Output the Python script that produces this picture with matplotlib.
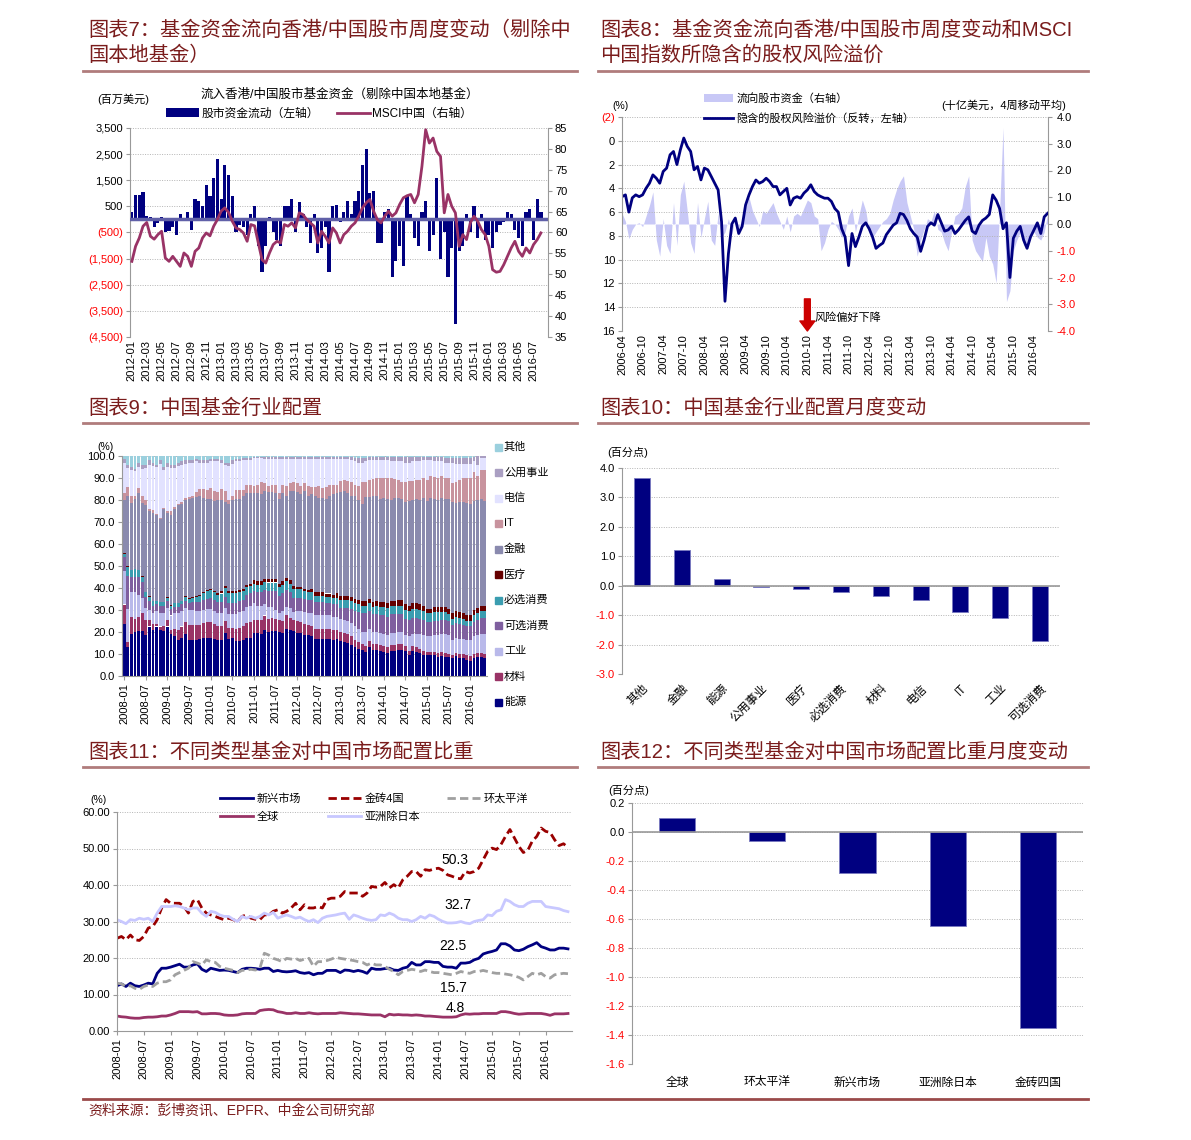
import numpy as np
import matplotlib
matplotlib.use('Agg')
import matplotlib.pyplot as plt
from matplotlib.patches import Rectangle, Patch
from matplotlib.lines import Line2D

plt.rcParams['font.family'] = ['Liberation Sans', 'Noto Sans CJK SC', 'DejaVu Sans']
plt.rcParams['axes.unicode_minus'] = False

# ---------------- DATA ----------------
# Chart 7: semi-monthly, 2012-01 .. 2016-08
flow7 = [300, 950, 950, 1050, 150, 100, -300, -150, 100, -500,
         -450, -300, -600, 200, 50, 300, -400, 800, 700, 500,
         1300, 900, 1600, 2300, 800, 2100, 1700, 900, -500, -200,
         -300, -600, 200, 500, -1000, -2000, -1000, 100, -500, -800,
         -1000, 500, 500, 800, -500, 650, 200, -300, -900, 200,
         -1300, -1100, -300, -2000, 500, 550, -100, 300, 700, 200,
         700, 1100, 2100, 2700, 1000, 1100, -900, -900, 300, 400,
         -2200, -1600, -1000, -1800, 900, 200, -700, -1000, 300, 700,
         -1200, -600, 1600, -1500, -500, -2200, -1100, -4000, -1200, -1000,
         200, -500, 500, -700, 200, -800, -600, -1100, -500, -200,
         -100, 300, 200, -400, -700, -1000, 300, 400, -800, 800,
         300]
msci7 = [53.1, 56.7, 58.7, 61.5, 62.4, 59.1, 58.4, 59.5, 60.3, 53.9,
         53.1, 54.3, 53.1, 51.9, 55.1, 54.3, 51.9, 55.5, 56.3, 58.7,
         59.9, 59.2, 61.5, 63.1, 65.1, 65.9, 64.8, 62.7, 61.1, 60.7,
         59.9, 57.9, 61.9, 61.6, 57.5, 53.5, 52.7, 55.1, 57.1, 57.9,
         57.5, 61.9, 61.5, 62.3, 61.1, 64.7, 64.3, 63.1, 62.3, 61.5,
         57.5, 60.3, 59.1, 57.5, 61.1, 59.9, 57.5, 59.5, 60.3, 61.5,
         62.3, 63.9, 65.9, 67.1, 67.9, 65.1, 63.1, 62.3, 63.9, 65.1,
         63.9, 64.7, 66.7, 68.3, 68.8, 69.1, 67.1, 69.1, 75.8, 84.6,
         81.4, 82.6, 79.4, 78.2, 64.7, 69.1, 66.3, 64.7, 56.7, 59.5,
         58.3, 62.3, 63.9, 62.7, 60.7, 59.5, 56.7, 51.1, 50.5, 50.7,
         52.3, 54.3, 56.3, 57.9, 55.5, 54.3, 56.3, 55.1, 57.1, 58.3,
         59.9]
x7_labels = [f'{y}-{m:02d}' for y in range(2012, 2017) for m in (1, 3, 5, 7, 9, 11)][:28]

# Chart 8: monthly, 2006-04 .. 2016-08
erp8 = [4.7, 4.55, 6.0, 4.8, 4.55, 4.7, 4.55, 4.0, 3.57, 2.87,
        3.15, 3.57, 2.58, 2.3, 1.18, 0.9, 2.0, 0.76, -0.23, 0.47,
        0.9, 2.44, 2.16, 3.29, 2.3, 2.44, 3.0, 3.57, 4.13, 6.8,
        13.5, 9.5, 7.0, 6.5, 7.8, 7.2, 5.4, 4.55, 3.85, 3.3,
        3.57, 3.43, 3.15, 3.43, 3.85, 3.85, 4.55, 4.27, 4.0, 5.4,
        4.83, 4.7, 4.83, 4.4, 4.13, 3.7, 4.27, 4.55, 4.7, 4.83,
        4.83, 5.1, 5.7, 6.0, 7.4, 8.1, 10.5, 7.8, 8.9, 8.1,
        7.2, 6.9, 7.4, 8.1, 9.05, 8.8, 8.6, 7.9, 7.5, 7.1,
        6.9, 6.1, 6.2, 6.7, 7.4, 7.8, 8.1, 9.3, 8.35, 7.2,
        6.9, 7.1, 6.2, 6.9, 7.6, 7.5, 7.2, 7.8, 7.5, 7.1,
        6.7, 6.4, 7.6, 7.8, 7.1, 6.7, 6.5, 6.2, 4.55, 5.0,
        5.7, 7.4, 6.9, 11.5, 8.2, 7.6, 7.2, 8.35, 9.05, 8.1,
        7.5, 6.9, 7.8, 6.4, 6.1]
flow8 = [0.4, 0.1, -0.55, -0.2, 0.0, 0.05, -0.1, 0.3, 0.7, 1.2,
         -0.6, -1.2, 0.2, -0.8, -1.1, 0.8, -0.8, 1.1, 1.6, 0.5,
         -0.7, -1.1, 0.8, -0.5, 0.2, 0.85, -0.6, -0.8, 0.4, -0.5,
         -0.3, 0.2, -0.4, 0.3, -0.2, 0.2, 0.6, 1.0, 0.5, 0.2,
         -0.1, 0.5, 0.4, 0.6, 0.8, 0.4, 0.1, -0.2, 0.3, -0.3,
         0.3, 0.4, 0.3, 0.6, 0.9, 0.8, 0.3, 0.2, -1.0, -0.7,
         -0.2, 0.1, 0.0, -0.2, -0.5, -0.3, 0.3, 0.6, -0.3, 0.3,
         0.9, 0.5, -0.3, -0.5, -0.3, -0.1, 0.1, 0.2, 0.4, 0.9,
         1.3, 1.6, 1.8, 0.8, 0.3, -0.2, -1.2, -0.6, -0.2, 0.2,
         0.1, 0.5, -0.2, -0.3, -0.7, -1.0, -0.3, 0.3, 0.4, 0.6,
         1.4, 1.8, -0.6, -1.0, -1.2, -1.4, -0.5, -1.2, -1.5, -2.2,
         0.5, 3.6, -2.9, -2.5, -1.0, -0.6, -0.3, -0.8, -0.9, -0.4,
         -0.3, -0.5, -0.6, -0.3, 0.4]
x8_labels = [f'{y}-{m:02d}' for y in range(2006, 2017) for m in (4, 10)][:21]

# Chart 9: monthly sector shares, 2008-01 .. 2016-05
energy9 = [23.5, 13, 19, 20, 20.5, 20.5, 18.5, 22.5, 21, 22.5, 21, 20.5,
           22.5, 19, 18, 16.5, 17.5, 19, 16.5, 16.5, 16.5, 17, 17.5, 17.5,
           17.5, 17, 16.5, 16.5, 19.5, 17, 17.5, 16, 16, 16.5, 17.5, 17.5,
           19.5, 19.5, 19, 21, 20, 20.5, 20.5, 20, 19.5, 21.5, 21, 20.5,
           19.5, 19.5, 18.5, 18.5, 18, 17, 17, 17, 17, 17, 16.5, 17,
           16, 15.5, 15, 14, 13, 12.5, 12, 11, 13, 12, 12, 11.5,
           11, 10.5, 11.5, 11.5, 12, 12, 11.5, 9.5, 11.5, 11, 10.5, 9.5,
           9.5, 9.5, 9.5, 8.5, 9, 8.5, 8.5, 8, 9, 8, 8, 7.5,
           7, 8, 8.5, 8.5, 8]
materials9 = [9, 2.5, 8, 6, 6.5, 8, 7, 3, 2.5, 1, 1.5, 2,
              3, 2, 3.5, 4.5, 5, 5.5, 6.5, 6.5, 6.5, 6, 6.5, 7,
              7, 6.5, 6, 6, 5.5, 5, 4.5, 5.5, 6, 6, 6.5, 7,
              6, 6, 6.5, 6.5, 6, 6, 5.5, 5.5, 5.5, 6, 5.5, 5,
              5.5, 5, 5, 4.5, 4.5, 4.5, 4.5, 4.5, 4.5, 4.5, 4.5, 4,
              4, 4, 4, 4, 3.5, 3, 2.5, 2.5, 3, 2.5, 2.5, 2.5,
              2.5, 2.5, 2.5, 2.5, 2.5, 2.5, 2, 2, 2, 2, 2, 2,
              1.5, 1.5, 1.5, 2, 2, 2, 1.5, 1.5, 1.5, 2, 2, 2,
              2, 2, 2, 2, 2]
industrials9 = [15, 15, 11, 12, 10, 7, 5.5, 4.5, 5, 6, 6, 6,
                5.5, 6.5, 7, 7.5, 7, 6.5, 7, 7, 6.5, 6.5, 6, 6,
                6, 6, 6, 6, 6, 6, 6, 6.5, 7, 7, 7.5, 7.5,
                7.5, 6.5, 6.5, 5, 5.5, 5, 4, 3, 4.5, 4, 4.5, 3.5,
                4.5, 5, 5.5, 5.5, 6, 6, 6, 6, 6, 6, 6, 6,
                6, 6, 6, 6, 6, 6, 5.5, 6.5, 5.5, 5.5, 5.5, 5.5,
                5.5, 5.5, 5.5, 5.5, 5.5, 5.5, 5, 6.5, 5.5, 6, 6.5, 7,
                7, 7, 7.5, 8, 8, 8.5, 8.5, 7, 7, 7, 7, 7,
                7.5, 8, 8, 8.5, 9]
discretionary9 = [6.5, 15, 7, 7, 8, 7, 5, 4, 3.5, 3, 3.5, 3.5,
                  3, 3, 3, 3, 3, 3, 3, 3.5, 4, 4, 4.5, 4.5,
                  5, 5, 5, 5, 5, 5, 5, 5, 5, 5, 5.5, 5.5,
                  5.5, 6, 6, 6.5, 7, 7, 8.5, 8, 8, 7.5, 7, 6.5,
                  6, 6, 6, 6, 6, 6, 6, 6, 5.5, 5.5, 5.5, 5.5,
                  5, 5.5, 6, 6.5, 7, 7.5, 8.5, 8.5, 8, 8, 8, 8,
                  8.5, 8.5, 8.5, 8.5, 8, 8, 7.5, 7.5, 7.5, 7.5, 7, 7,
                  6.5, 6.5, 6.5, 6.5, 6.5, 6.5, 6.5, 6.5, 6.5, 6.5, 6, 6,
                  6, 6.5, 7, 7.5, 7.5]
staples9 = [1.5, 4, 3, 3.5, 3, 2.5, 2, 2, 2, 1.5, 1.5, 1.5,
            1.5, 1.5, 1.5, 1.5, 1.5, 2, 2, 2, 2.5, 3, 3, 3.5,
            3.5, 3.5, 3.5, 4, 4, 4.5, 4.5, 4.5, 4, 4, 3.5, 3.5,
            3.5, 3.5, 3.5, 3.5, 4, 4, 4, 4, 4, 4, 4, 4,
            4, 4, 3.5, 3.5, 3.5, 3, 3, 3, 3, 3, 3, 3,
            3.5, 3.5, 3.5, 3.5, 3.5, 3.5, 3.5, 3.5, 3.5, 3.5, 4, 4,
            4, 4, 4, 4, 4, 4, 4, 4, 4, 4, 4, 4,
            4, 4, 4, 4, 3.5, 3.5, 3, 3, 3, 3, 3, 2.5,
            2.5, 3, 3, 3, 3]
health9 = [0.3, 0.3, 0.3, 0.3, 0.3, 0.3, 0.3, 0.3, 0.3, 0.3, 0.3, 0.3,
           0.3, 0.3, 0.3, 0.3, 0.3, 0.5, 0.5, 0.5, 0.5, 0.5, 0.5, 0.5,
           0.5, 0.8, 0.8, 1, 1, 1, 1, 1, 1, 1, 1, 1,
           1.5, 1.5, 1.5, 1.5, 1.5, 1.5, 1.5, 1.5, 1.5, 1.5, 1.5, 1.5,
           1, 1, 1, 1, 1.5, 1.5, 1.5, 1.5, 1.5, 1.5, 1.5, 2,
           2, 2, 2, 2, 2, 2, 2, 2, 2, 2, 2, 2,
           2, 2, 2, 2, 2.5, 2.5, 2.5, 2.5, 2.5, 2.5, 2.5, 2.5,
           2, 2, 2.5, 2.5, 2.5, 2.5, 2.5, 2.5, 2.5, 2.5, 2.5, 2.5,
           2.5, 2.5, 2.5, 2.5, 2.5]
financials9 = [24.2, 32.2, 30.2, 31.7, 34.7, 33.2, 39.2, 38.7, 39.7, 38.7, 37.7, 42.2,
               38.2, 40.7, 42.7, 44.2, 43.7, 43.5, 45, 45, 45, 45, 43, 41.5,
               41, 40.7, 42.2, 41.5, 38, 39.5, 41.5, 42, 41.5, 42.5, 41.5, 41,
               39.5, 40, 39.5, 40, 39.5, 39.5, 39, 38.5, 40, 37.5, 40.5, 43,
               43, 42, 44.5, 43, 43, 44, 43, 43, 43, 44.5, 45.5, 45.5,
               47, 47.5, 46.5, 46, 47, 45.5, 44, 47.5, 46.5, 48.5, 48, 47,
               47.5, 47.5, 46, 47, 46.5, 46, 46.5, 47.5, 47, 47.5, 47.5, 49,
               49, 50.5, 49, 48.5, 49.5, 49, 50, 50.5, 49, 50, 50.5, 51,
               50.5, 49.5, 49, 48.5, 47.5]
it9 = [3, 4, 3.5, 1.5, 2.5, 3.5, 2.5, 1, 1.5, 0.5, 0.5, 0.5,
       1, 2, 1, 0.5, 1, 1, 1, 1, 2, 3, 4, 4,
       5, 4.5, 3.5, 5, 5, 2, 2, 4, 4, 2.5, 4, 4,
       3.5, 4, 5.5, 3.5, 3, 3.5, 4, 2.5, 4, 4.5, 3.5, 4,
       4, 4, 3.5, 4.5, 3.5, 4, 5.5, 4.5, 5.5, 5, 4.5, 4,
       5, 5, 5.5, 6, 5, 6.5, 10, 6.5, 7.5, 7.5, 8, 9.5,
       9, 9.5, 10, 8.5, 8, 7.5, 9, 9, 8.5, 8.5, 9, 9,
       9.5, 10, 10, 10, 10, 9.5, 9.5, 8.5, 9.5, 10, 11, 11.5,
       12, 13, 11, 13, 14]
telecom9 = [14, 8.5, 11.5, 11, 9.5, 12, 14.5, 20, 20, 21.5, 24.5, 17,
            20, 19.5, 17.5, 17.5, 17, 15.5, 15.5, 15, 14, 12, 12, 12.5,
            12, 13.5, 14, 12, 12, 15.5, 14.5, 13, 13, 13.5, 11, 11,
            12.5, 12, 11, 11, 12, 11.5, 11.5, 15.5, 11.5, 12, 11, 10.5,
            11, 12, 11, 12, 12.5, 12.5, 12, 13, 12.5, 11.5, 11.5, 11.5,
            10, 9.5, 10, 10, 10.5, 10.5, 9, 9.5, 9, 8.5, 8, 8,
            8, 8, 7.5, 8, 8.5, 9.5, 9, 8.5, 9, 8.5, 8.5, 8,
            9, 7, 7, 7.5, 6.5, 7, 7, 9.5, 8.5, 7.5, 6.5, 6.5,
            6.5, 5, 5, 5.5, 5.5]
utilities9 = [1.5, 1.5, 1.5, 1, 2, 2, 1.5, 2, 1.5, 1, 1.5, 1.5,
              2, 1.5, 1.5, 1.5, 1.5, 1.5, 1, 1, 1, 1, 1, 1,
              1, 1, 1, 1, 1, 1.5, 1.5, 1, 1, 1, 1, 1,
              0.5, 0.5, 0.5, 1, 1, 1, 1, 1, 1, 1, 1, 1,
              1, 1, 1, 1, 1, 1, 1, 1, 1, 1, 1, 1,
              1, 1, 1, 1.5, 1.5, 2, 2, 1.5, 1.5, 1.5, 1.5, 1.5,
              1.5, 1.5, 2, 2, 2, 2, 2.5, 2.5, 2, 2, 2, 1.5,
              1.5, 1.5, 2, 2, 2, 2, 2, 2, 2.5, 2.5, 2.5, 2.5,
              2.5, 2, 4, 1, 1]
other9 = [1.5, 4, 5, 6, 3, 4, 4, 2, 3, 4, 2, 5,
          3, 4, 4, 3, 2.5, 2, 2, 2, 1.5, 2, 2, 2,
          1.5, 1.5, 1.5, 2, 3, 3, 2, 1.5, 1.5, 1, 1, 1,
          0.5, 0.5, 0.5, 0.5, 0.5, 0.5, 0.5, 0.5, 0.5, 0.5, 0.5, 0.5,
          0.5, 0.5, 0.5, 0.5, 0.5, 0.5, 0.5, 0.5, 0.5, 0.5, 0.5, 0.5,
          0.5, 0.5, 0.5, 0.5, 1, 1, 1, 1, 0.5, 0.5, 0.5, 0.5,
          0.5, 0.5, 0.5, 0.5, 0.5, 0.5, 0.5, 0.5, 0.5, 0.5, 0.5, 0.5,
          0.5, 0.5, 0.5, 0.5, 0.5, 1, 1, 1, 1, 1, 1, 1,
          1, 0.5, 0, 0, 0]
sectors9 = ['能源', '材料', '工业', '可选消费', '必选消费', '医疗', '金融', 'IT', '电信', '公用事业', '其他']
x9_labels = [f'{y}-{m:02d}' for y in range(2008, 2017) for m in (1, 7)][:17]

# Chart 10
cats10 = ['其他', '金融', '能源', '公用事业', '医疗', '必选消费', '材料', '电信', 'IT', '工业', '可选消费']
vals10 = [3.65, 1.22, 0.22, -0.06, -0.1, -0.22, -0.36, -0.5, -0.9, -1.1, -1.88]

# Chart 11: monthly 2008-01 .. 2016-06
em11 = [12.4, 12.9, 12.2, 13.1, 12.4, 12.2, 12.6, 13.1, 12.9, 15.8,
        17.2, 17.2, 17.5, 17.9, 18.3, 17.5, 17.5, 18.1, 18.4, 16.9,
        16.3, 17.2, 16.9, 16.6, 16.7, 16.6, 16.3, 16.0, 16.9, 17.2,
        17.2, 17.1, 16.9, 17.2, 17.2, 16.3, 16.6, 16.3, 16.2, 16.3,
        16.5, 16.0, 15.8, 16.0, 15.4, 15.8, 15.8, 16.6, 16.6, 16.6,
        16.0, 16.7, 16.6, 16.3, 16.6, 16.3, 15.8, 17.2, 16.9, 16.9,
        17.1, 17.2, 16.7, 16.6, 17.2, 17.5, 18.8, 18.1, 18.1, 19.0,
        19.0, 18.8, 18.8, 17.7, 17.5, 17.5, 17.2, 18.6, 18.6, 18.8,
        19.5, 19.9, 21.1, 21.5, 21.8, 22.2, 23.9, 23.9, 23.3, 22.2,
        22.0, 22.4, 23.1, 23.6, 24.2, 23.1, 22.7, 22.2, 22.2, 22.7,
        22.7, 22.5]
bric11 = [25.4, 25.9, 25.0, 26.3, 25.0, 24.8, 25.9, 28.2, 28.6, 30.5,
          33.7, 36.0, 35.0, 35.0, 35.0, 34.1, 32.3, 35.5, 36.0, 33.7,
          32.3, 31.8, 31.4, 30.9, 30.5, 30.9, 30.5, 30.0, 31.4, 31.8,
          30.9, 30.6, 30.5, 31.8, 31.8, 32.8, 33.2, 32.3, 32.8, 33.7,
          35.0, 33.2, 34.6, 33.7, 33.7, 34.1, 33.7, 36.0, 36.4, 36.4,
          36.9, 38.2, 37.8, 37.8, 37.8, 36.9, 37.8, 39.6, 39.4, 39.6,
          40.7, 39.2, 40.1, 39.2, 41.4, 42.4, 43.7, 43.7, 42.4, 44.2,
          44.0, 44.4, 44.6, 44.0, 42.8, 42.4, 41.9, 41.7, 43.7, 43.3,
          43.7, 44.6, 46.9, 49.2, 50.1, 49.7, 51.1, 53.3, 55.2, 52.9,
          50.6, 48.9, 49.5, 52.0, 53.3, 55.6, 54.7, 54.4, 52.4, 50.8,
          51.3, 50.3]
pac11 = [13.1, 12.9, 12.2, 12.4, 11.7, 11.4, 12.2, 12.6, 12.2, 13.1,
         13.5, 13.5, 14.0, 15.4, 16.0, 16.6, 17.2, 19.0, 18.6, 18.1,
         19.5, 19.0, 18.8, 17.7, 17.2, 16.9, 16.6, 16.0, 16.6, 16.7,
         16.9, 16.7, 17.2, 21.3, 20.8, 19.9, 19.5, 19.0, 19.9, 19.7,
         19.9, 19.3, 19.7, 19.9, 17.7, 19.0, 19.0, 19.3, 19.7, 20.2,
         19.9, 19.7, 19.5, 19.3, 19.0, 18.8, 18.1, 18.6, 18.1, 18.1,
         17.7, 16.9, 16.3, 15.4, 16.3, 16.6, 16.9, 16.7, 16.3, 16.7,
         16.3, 16.0, 16.0, 15.8, 15.6, 15.4, 15.8, 16.3, 16.0, 15.8,
         16.3, 16.3, 16.6, 16.3, 16.0, 15.8, 15.8, 15.6, 15.4, 15.1,
         14.7, 14.0, 14.9, 15.8, 15.4, 15.8, 14.9, 14.5, 15.4, 15.6,
         15.8, 15.7]
glob11 = [4.1, 3.9, 3.8, 3.6, 3.5, 3.5, 3.7, 3.8, 3.8, 3.9,
          4.1, 4.1, 4.4, 4.8, 5.3, 5.3, 5.3, 5.2, 5.3, 4.7,
          4.7, 4.8, 4.8, 4.7, 4.4, 4.3, 4.3, 4.4, 4.7, 4.8,
          4.8, 4.8, 5.6, 5.8, 5.9, 5.8, 5.3, 5.1, 4.8, 4.8,
          5.0, 4.8, 4.8, 5.0, 4.8, 4.7, 4.8, 4.8, 4.8, 4.8,
          5.0, 4.9, 4.8, 4.7, 4.7, 4.6, 4.5, 4.4, 4.4, 4.4,
          3.9, 4.6, 4.4, 4.5, 4.4, 4.4, 4.3, 4.4, 4.3, 4.1,
          4.1, 4.0, 3.9, 3.8, 3.8, 3.8, 3.9, 4.4, 4.7, 4.6,
          4.7, 4.7, 4.8, 4.8, 4.8, 4.8, 5.3, 5.3, 5.1, 4.8,
          4.6, 4.7, 4.8, 4.8, 4.8, 4.8, 4.6, 4.3, 4.7, 4.7,
          4.7, 4.8]
asia11 = [30.5, 30.0, 29.4, 30.5, 30.3, 30.9, 30.6, 30.9, 30.0, 32.3,
          34.1, 34.1, 34.1, 34.3, 34.1, 33.7, 33.2, 33.7, 33.7, 32.3,
          31.4, 32.8, 32.5, 31.8, 31.4, 31.4, 30.6, 30.0, 31.4, 30.9,
          31.4, 30.9, 31.4, 32.3, 31.8, 32.5, 30.9, 31.4, 31.8, 31.4,
          30.9, 31.2, 30.5, 30.0, 30.5, 29.7, 30.9, 31.4, 31.6, 31.8,
          32.1, 32.3, 30.6, 31.8, 31.4, 30.9, 30.5, 30.3, 30.5, 31.8,
          31.6, 32.3, 31.8, 30.9, 30.5, 30.5, 30.0, 30.5, 31.4, 30.9,
          31.8, 31.4, 30.6, 30.0, 29.6, 29.6, 29.7, 30.0, 29.6, 29.4,
          30.0, 30.3, 30.5, 31.8, 31.6, 32.8, 33.2, 36.0, 35.5, 34.6,
          34.1, 34.1, 35.0, 35.5, 35.5, 35.5, 34.1, 33.9, 33.7, 33.5,
          33.0, 32.7]
x11_labels = x9_labels

# Chart 12
cats12 = ['全球', '环太平洋', '新兴市场', '亚洲除日本', '金砖四国']
vals12 = [0.1, -0.06, -0.28, -0.65, -1.35]

# ---------------- STYLE ----------------
W, H = 1191, 1140
TC = '#7a1c1c'
NAVY = '#000080'
MAROON = '#993366'
REDL = '#ff0000'
GRAY = '#999999'
GRID = dict(color='#b4b4b4', linestyle=(0, (1, 1.5)), linewidth=0.7)

fig = plt.figure(figsize=(W / 100, H / 100), dpi=100)


def rect(l, t, r, b):
    return [l / W, 1 - b / H, (r - l) / W, (b - t) / H]


def ftext(x, y, s, **kw):
    kw.setdefault('va', 'center')
    return fig.text(x / W, 1 - y / H, s, **kw)


def fline(x0, x1, y, color, lw):
    fig.add_artist(Line2D([x0 / W, x1 / W], [1 - y / H, 1 - y / H], color=color, lw=lw))


def base(ax, left=True, bottom=False):
    for s in ax.spines.values():
        s.set_visible(False)
    if left:
        ax.spines['left'].set_visible(True)
        ax.spines['left'].set_color(GRAY)
    if bottom:
        ax.spines['bottom'].set_visible(True)
        ax.spines['bottom'].set_color(GRAY)
    ax.tick_params(axis='y', labelsize=8, length=3, color=GRAY, width=0.8, pad=2)
    ax.tick_params(axis='x', labelsize=8, length=0, pad=2)
    ax.yaxis.grid(True, **GRID)
    ax.set_axisbelow(True)


def color_neg(labels, vals):
    for lab, v in zip(labels, vals):
        lab.set_color(REDL if v < 0 else 'black')


# ---------------- TITLES ----------------
TFS = 14.6
ftext(88, 30, '图表7：基金资金流向香港/中国股市周度变动（剔除中', fontsize=TFS, color=TC)
ftext(88, 55, '国本地基金）', fontsize=TFS, color=TC)
ftext(600, 30, '图表8：基金资金流向香港/中国股市周度变动和MSCI', fontsize=TFS, color=TC)
ftext(600, 55, '中国指数所隐含的股权风险溢价', fontsize=TFS, color=TC)
ftext(88, 408, '图表9：中国基金行业配置', fontsize=TFS, color=TC)
ftext(600, 408, '图表10：中国基金行业配置月度变动', fontsize=TFS, color=TC)
ftext(88, 752, '图表11：不同类型基金对中国市场配置比重', fontsize=TFS, color=TC)
ftext(600, 752, '图表12：不同类型基金对中国市场配置比重月度变动', fontsize=TFS, color=TC)
LC = '#b07c7c'
for y in (71, 423, 767):
    fline(83, 577, y, LC, 2)
    fline(598, 1088, y, LC, 2)
fline(83, 1088, 1099, '#9a4a4a', 2)
ftext(88, 1111, '资料来源：彭博资讯、EPFR、中金公司研究部', fontsize=10, color=TC)

# ---------------- CHART 7 ----------------
ax7 = fig.add_axes(rect(130, 128, 548, 337))
base(ax7)
h7 = np.arange(len(flow7))
ax7.bar(h7, flow7, width=0.85, color=NAVY, zorder=2)
ax7.axhline(0, color='#6060a8', lw=2.5, zorder=3)
ax7.set_ylim(-4500, 3500)
yt7 = list(range(-4500, 3501, 1000))
ax7.set_yticks(yt7, [f'({abs(v):,})' if v < 0 else f'{v:,}' for v in yt7])
color_neg(ax7.get_yticklabels(), yt7)
ax7.set_xlim(-0.5, 111.9)
ax7.set_xticks(range(0, 4 * len(x7_labels), 4), x7_labels, rotation=90)
ax7b = ax7.twinx()
for s in ax7b.spines.values():
    s.set_visible(False)
ax7b.spines['right'].set_visible(True)
ax7b.spines['right'].set_color(GRAY)
ax7b.plot(h7, msci7, color=MAROON, lw=2, zorder=4)
ax7b.set_ylim(35, 85)
ax7b.set_yticks(range(35, 86, 5))
ax7b.tick_params(axis='y', labelsize=8, length=3, color=GRAY, pad=2)
ftext(97, 99, '(百万美元)', fontsize=8)
ftext(340, 95, '流入香港/中国股市基金资金（剔除中国本地基金）', fontsize=9, ha='center')
fig.legend(handles=[Patch(fc=NAVY), Line2D([], [], color=MAROON, lw=2)],
           labels=['股市资金流动（左轴）', 'MSCI中国（右轴）'],
           loc='upper left', bbox_to_anchor=(166 / W, 1 - 108 / H), ncol=2, frameon=False,
           fontsize=8.5, handlelength=2.8, handleheight=0.8, handletextpad=0.2, columnspacing=1.5,
           borderaxespad=0, borderpad=0)

# ---------------- CHART 8 ----------------
ax8 = fig.add_axes(rect(622, 117, 1048, 331))
ax8b = ax8.twinx()
m8 = np.arange(len(erp8))
ax8b.fill_between(m8, flow8, 0, color='#c8c8f6', lw=0)
ax8b.set_ylim(-4, 4)
yt8b = [4, 3, 2, 1, 0, -1, -2, -3, -4]
ax8b.set_yticks(yt8b, [f'{v:.1f}' for v in yt8b])
color_neg(ax8b.get_yticklabels(), yt8b)
for s in ax8b.spines.values():
    s.set_visible(False)
ax8b.spines['right'].set_visible(True)
ax8b.spines['right'].set_color(GRAY)
ax8b.tick_params(axis='y', labelsize=8, length=3, color=GRAY, pad=3)
base(ax8)
ax8.set_zorder(ax8b.get_zorder() + 1)
ax8.patch.set_visible(False)
ax8.plot(m8, erp8, color=NAVY, lw=2)
ax8.set_ylim(16, -2)
yt8 = list(range(-2, 17, 2))
ax8.set_yticks(yt8, ['(2)' if v < 0 else str(v) for v in yt8])
color_neg(ax8.get_yticklabels(), yt8)
ax8.set_xlim(0, 124.1)
ax8.set_xticks(range(0, 6 * len(x8_labels), 6), x8_labels, rotation=90)
ax8.annotate('', xy=(54, 16), xytext=(54, 13.3), annotation_clip=False,
             arrowprops=dict(arrowstyle='simple,head_width=0.9,head_length=0.6,tail_width=0.35',
                             color='#cc0000', mutation_scale=12, shrinkA=0, shrinkB=0))
ax8.text(56.2, 14.9, '风险偏好下降', fontsize=8, va='center')
ftext(612, 106, '(%)', fontsize=7.5)
ftext(1066, 105, '(十亿美元，4周移动平均)', fontsize=8, ha='right')
fig.legend(handles=[Patch(fc='#c8c8f6'), Line2D([], [], color=NAVY, lw=2)],
           labels=['流向股市资金（右轴）', '隐含的股权风险溢价（反转，左轴）'],
           loc='upper left', bbox_to_anchor=(704 / W, 1 - 93 / H), ncol=1, frameon=False,
           fontsize=8, handlelength=2.6, handleheight=0.8, handletextpad=0.3, labelspacing=0.8,
           borderaxespad=0, borderpad=0)

# ---------------- CHART 9 ----------------
ax9 = fig.add_axes(rect(122, 456, 487, 676))
base(ax9, bottom=True)
colors9 = ['#000080', '#993366', '#b9b9ea', '#7f5f9f', '#3a9db0', '#660000',
           '#8a8aae', '#c8939e', '#e2e2ff', '#aa9fc2', '#9bd0de']
series9 = [energy9, materials9, industrials9, discretionary9, staples9, health9,
           financials9, it9, telecom9, utilities9, other9]
x9 = np.arange(len(energy9))
bottom = np.zeros(len(x9))
for vals, c in zip(series9, colors9):
    v = np.array(vals, dtype=float)
    ax9.bar(x9, v, bottom=bottom, width=0.8, color=c, lw=0)
    bottom += v
ax9.set_ylim(0, 100)
ax9.set_yticks(range(0, 101, 10), [f'{v:.1f}' for v in range(0, 101, 10)])
ax9.set_xlim(-0.6, 100.6)
ax9.set_xticks(range(0, 6 * len(x9_labels), 6), x9_labels, rotation=90)
ax9.tick_params(axis='x', length=3, color=GRAY)
ftext(97, 447, '(%)', fontsize=7.5)
for i, (name, c) in enumerate(zip(sectors9[::-1], colors9[::-1])):
    y = 447 + 25.5 * i
    fig.add_artist(Rectangle((495 / W, 1 - (y + 3.5) / H), 7 / W, 7 / H,
                             transform=fig.transFigure, color=c))
    ftext(504, y, name, fontsize=8)

# ---------------- CHART 10 ----------------
ax10 = fig.add_axes(rect(622, 468, 1060, 674))
base(ax10)
ax10.bar(range(len(vals10)), vals10, width=0.4, color=NAVY, edgecolor='#7878c0', lw=0.6, zorder=2)
ax10.axhline(0, color=GRAY, lw=1.2, zorder=3)
ax10.set_ylim(-3, 4)
yt10 = list(range(-3, 5))
ax10.set_yticks(yt10, [f'{v:.1f}' for v in yt10])
color_neg(ax10.get_yticklabels(), yt10)
ax10.set_xlim(-0.5, len(vals10) - 0.5)
ax10.set_xticks(range(len(cats10)), cats10, rotation=45, ha='right', rotation_mode='anchor', fontsize=8.5)
ax10.tick_params(axis='x', pad=6)
ftext(607, 452, '(百分点)', fontsize=8)

# ---------------- CHART 11 ----------------
ax11 = fig.add_axes(rect(117, 812, 572, 1031))
base(ax11, bottom=True)
m11 = np.arange(len(em11))
l_em, = ax11.plot(m11, em11, color=NAVY, lw=2)
l_br, = ax11.plot(m11, bric11, color='#990000', lw=2, ls=(0, (3, 1.5)))
l_pa, = ax11.plot(m11, pac11, color='#a0a0a0', lw=2, ls=(0, (3, 1.5)))
l_gl, = ax11.plot(m11, glob11, color=MAROON, lw=2)
l_as, = ax11.plot(m11, asia11, color='#c8c8ff', lw=2)
ax11.set_ylim(0, 60)
ax11.set_yticks(range(0, 61, 10), [f'{v:.2f}' for v in range(0, 61, 10)])
ax11.set_xlim(0, 101.9)
ax11.set_xticks(range(0, 6 * len(x11_labels), 6), x11_labels, rotation=90)
ax11.tick_params(axis='x', length=3, color=GRAY)
ann_pos = [(75.7, 46.8), (76.4, 34.5), (75.2, 23.3), (75.4, 11.8), (75.7, 6.3)]
ann_txt = [f'{bric11[-1]:.1f}', f'{asia11[-1]:.1f}', f'{em11[-1]:.1f}', f'{pac11[-1]:.1f}', f'{glob11[-1]:.1f}']
for (xa, ya), t in zip(ann_pos, ann_txt):
    ax11.text(xa, ya, t, fontsize=10, ha='center', va='center')
ftext(90, 800, '(%)', fontsize=7.5)
fig.legend(handles=[l_em, l_gl, l_br, l_as, l_pa],
           labels=['新兴市场', '全球', '金砖4国', '亚洲除日本', '环太平洋'],
           loc='upper left', bbox_to_anchor=(220 / W, 1 - 793 / H), ncol=3, frameon=False,
           fontsize=8, handlelength=3.0, handletextpad=0.3, columnspacing=2.4, labelspacing=0.7,
           borderaxespad=0, borderpad=0)

# ---------------- CHART 12 ----------------
ax12 = fig.add_axes(rect(632, 803, 1083, 1064))
base(ax12)
ax12.bar(range(len(vals12)), vals12, width=0.4, color=NAVY, edgecolor='#7878c0', lw=0.6, zorder=2)
ax12.axhline(0, color=GRAY, lw=1.2, zorder=3)
ax12.set_ylim(-1.6, 0.2)
yt12 = [-1.6, -1.4, -1.2, -1.0, -0.8, -0.6, -0.4, -0.2, 0.0, 0.2]
ax12.set_yticks(yt12, [f'{v:.1f}' for v in yt12])
color_neg(ax12.get_yticklabels(), yt12)
ax12.set_xlim(-0.5, len(vals12) - 0.5)
ax12.set_xticks(range(len(cats12)), cats12, fontsize=8.5)
ax12.tick_params(axis='x', pad=9)
ftext(608, 790, '(百分点)', fontsize=8)

fig.savefig('out.png', dpi=100)
